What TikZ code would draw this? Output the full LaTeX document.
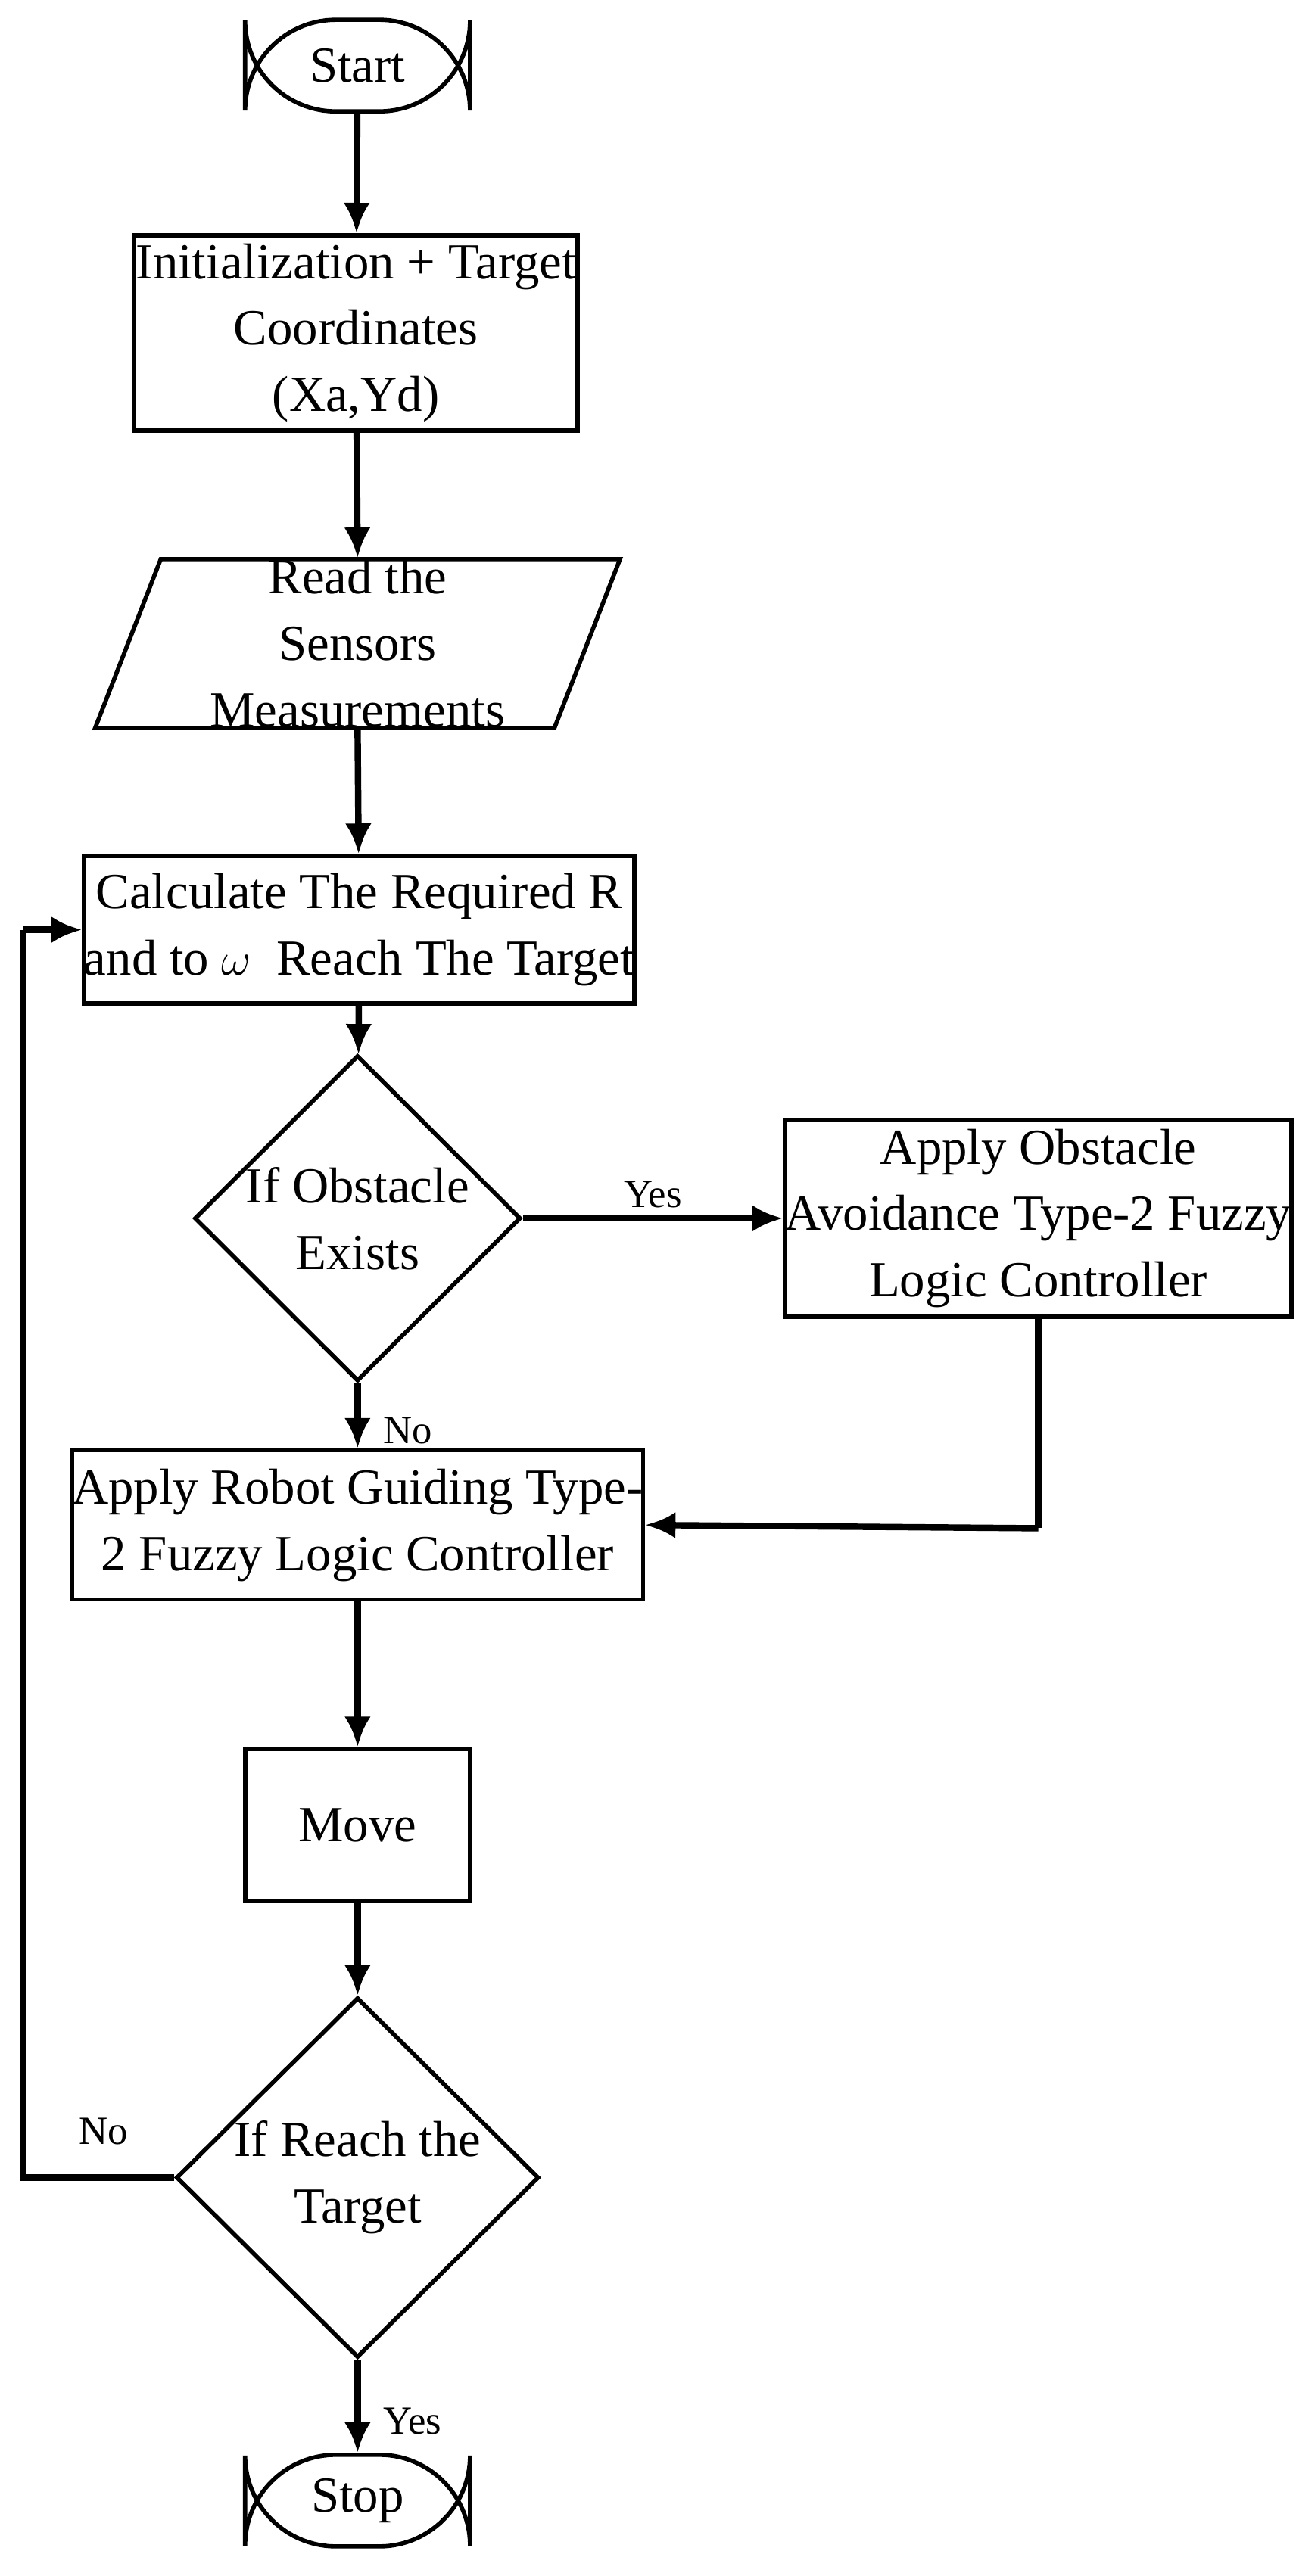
\documentclass[tikz,border=0pt]{standalone}
\usepackage{fontspec}
\setmainfont{Liberation Serif}
\usetikzlibrary{shapes.geometric,arrows.meta}
\tikzset{
  every node/.style={font=\fontsize{19}{25}\selectfont,align=center,inner sep=0pt},
  term/.style={draw,line width=1.6pt,rounded corners=12mm,minimum width=29.7mm,minimum height=12.1mm},
  proc/.style={draw,line width=1.6pt},
  deci/.style={draw,diamond,line width=1.6pt},
  lbl/.style={font=\fontsize{15}{18}\selectfont},
  arr/.style={line width=2.4pt,-{Latex[length=4mm,width=3.5mm]}},
  ln/.style={line width=2.4pt}
}
\begin{document}
\begin{tikzpicture}[x=0.2166mm,y=-0.2166mm]
\useasboundingbox (0,0) rectangle (790,1571);
\node[term] (start) at (218,40) {Start};
\node[proc,minimum width=58.5mm,minimum height=25.8mm] (init) at (217,203)
  {Initialization + Target\\Coordinates\\(Xa,Yd)};
% parallelogram drawn by hand
\draw[line width=1.6pt] (98,341) -- (378,341) -- (338,444) -- (58,444) -- cycle;
\node[minimum width=52mm,minimum height=22.3mm] (read) at (218,392)
  {Read the\\Sensors\\Measurements};
\node[proc,minimum width=71mm,minimum height=19.5mm] (calc) at (219,567)
  {Calculate The Required R\\and to $\omega$\ \ Reach The Target};
\node[deci,minimum width=43.1mm,minimum height=28.2mm] (obs) at (218,743)
  {If Obstacle\\Exists};
\node[proc,minimum width=62.2mm,minimum height=26mm] (avoid) at (633,743)
  {Apply Obstacle\\Avoidance Type-2 Fuzzy\\Logic Controller};
\node[proc,minimum width=69.3mm,minimum height=19.7mm] (guide) at (218,930)
  {Apply Robot Guiding Type-\\2 Fuzzy Logic Controller};
\node[proc,minimum width=29.7mm,minimum height=20.1mm] (move) at (218,1113) {Move};
\node[deci,minimum width=47.9mm,minimum height=34.2mm] (reach) at (218,1328)
  {If Reach the\\Target};
\node[term] (stop) at (218,1525) {Stop};
\coordinate (c1) at (14,1328);
\coordinate (c2) at (14,567);
\coordinate (c3) at (633,932);

\draw[arr] (start) -- (init);
\draw[arr] (init) -- (read.north);
\draw[arr] (read.south) -- (calc);
\draw[arr] (calc) -- (obs);
\draw[arr] (obs) -- node[lbl,above,yshift=1mm]{Yes} (avoid);
\draw[arr] (obs) -- node[lbl,right,xshift=3mm,yshift=-2mm]{No} (guide);
\draw[ln] (avoid.south) -- (c3);
\draw[arr] (c3) -- (guide.east);
\draw[arr] (guide) -- (move);
\draw[arr] (move) -- (reach);
\draw[arr] (reach) -- node[lbl,right,xshift=3mm,yshift=-2mm]{Yes} (stop);
\draw[ln] (reach.west) -- (c1) -- (c2);
\draw[arr] (c2) -- (calc.west);
\node[lbl] (no2) at (63,1300) {No};
\end{tikzpicture}
\end{document}
